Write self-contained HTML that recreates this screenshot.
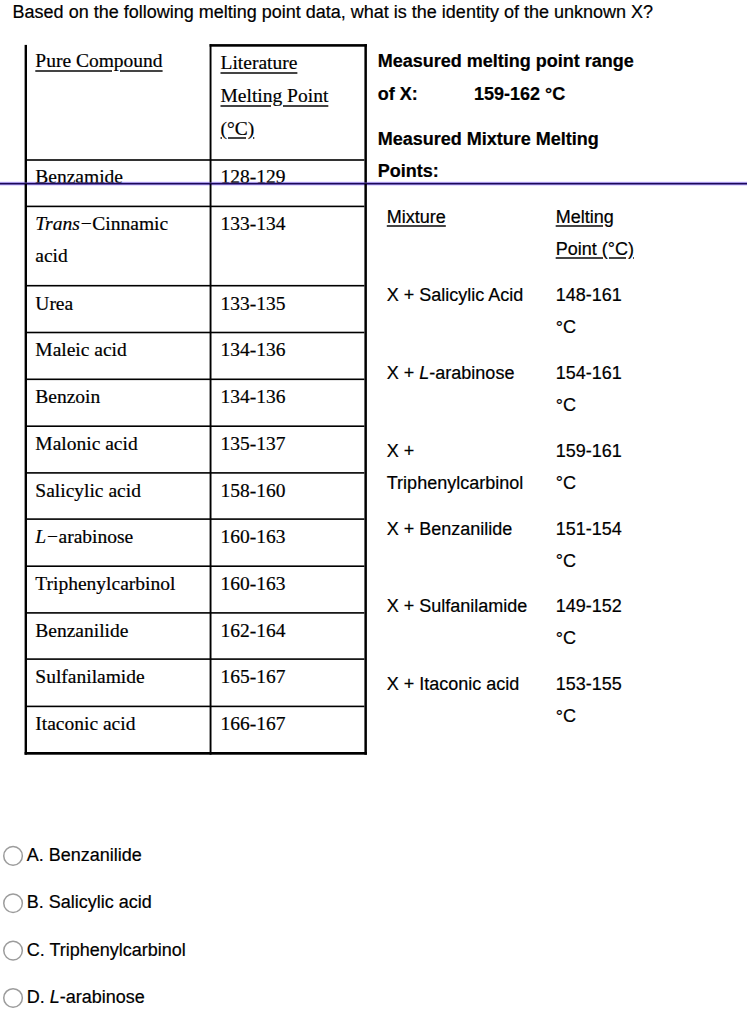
<!DOCTYPE html>
<html><head><meta charset="utf-8"><style>
html,body{margin:0;padding:0;background:#fff;width:747px;height:1024px;overflow:hidden;position:relative;}
.t{position:absolute;white-space:nowrap;color:#000;-webkit-text-stroke:0.2px #000;}
svg{position:absolute;left:0;top:0;}
</style></head><body>
<svg width="747" height="1024" viewBox="0 0 747 1024"><rect x="0" y="185" width="747" height="1" fill="#e6deff" shape-rendering="crispEdges"/><rect x="0" y="184" width="747" height="1" fill="#6e5eb4" shape-rendering="crispEdges"/><rect x="0" y="182" width="747" height="1" fill="#a596e6" shape-rendering="crispEdges"/><rect x="0" y="181" width="747" height="1" fill="#f3efff" shape-rendering="crispEdges"/><rect x="24.6" y="44.900000000000006" width="2.3999999999999986" height="709.8000000000001" fill="#000"/><rect x="364.4" y="44.1" width="2.5" height="710.6" fill="#000"/><rect x="209.6" y="44.1" width="1.9000000000000057" height="710.6" fill="#000"/><rect x="209.6" y="44.1" width="157.29999999999998" height="2.6000000000000014" fill="#000"/><rect x="24.6" y="752.0" width="342.29999999999995" height="2.7000000000000455" fill="#000"/><rect x="27.0" y="159.2" width="337.4" height="1.6" fill="#000"/><rect x="27.0" y="205.6" width="337.4" height="1.6" fill="#000"/><rect x="27.0" y="284.9" width="337.4" height="1.6" fill="#000"/><rect x="27.0" y="331.7" width="337.4" height="1.6" fill="#000"/><rect x="27.0" y="378.5" width="337.4" height="1.6" fill="#000"/><rect x="27.0" y="425.4" width="337.4" height="1.6" fill="#000"/><rect x="27.0" y="472.09999999999997" width="337.4" height="1.6" fill="#000"/><rect x="27.0" y="518.3000000000001" width="337.4" height="1.6" fill="#000"/><rect x="27.0" y="565.4000000000001" width="337.4" height="1.6" fill="#000"/><rect x="27.0" y="612.1" width="337.4" height="1.6" fill="#000"/><rect x="27.0" y="658.3000000000001" width="337.4" height="1.6" fill="#000"/><rect x="27.0" y="705.6" width="337.4" height="1.6" fill="#000"/><circle cx="13.05" cy="855.90" r="9.3" fill="none" stroke="#9c9c9c" stroke-width="1.5"/><circle cx="13.05" cy="903.25" r="9.3" fill="none" stroke="#9c9c9c" stroke-width="1.5"/><circle cx="13.05" cy="950.60" r="9.3" fill="none" stroke="#9c9c9c" stroke-width="1.5"/><circle cx="13.05" cy="997.95" r="9.3" fill="none" stroke="#9c9c9c" stroke-width="1.5"/></svg>
<div class="t" style="left:12.60px;top:-8.24px;font-family:'Liberation Sans', sans-serif;font-size:18px;line-height:40px;">Based on the following melting point data, what is the identity of the unknown X?</div>
<div class="t" style="left:35.30px;top:40.82px;font-family:'Liberation Serif', serif;font-size:19.5px;line-height:40px;text-decoration:underline;text-decoration-color:#444;text-decoration-thickness:1.5px;text-underline-offset:2.85px;">Pure Compound</div>
<div class="t" style="left:220.50px;top:42.82px;font-family:'Liberation Serif', serif;font-size:19.5px;line-height:40px;text-decoration:underline;text-decoration-color:#444;text-decoration-thickness:1.5px;text-underline-offset:2.85px;">Literature</div>
<div class="t" style="left:220.50px;top:75.52px;font-family:'Liberation Serif', serif;font-size:19.5px;line-height:40px;text-decoration:underline;text-decoration-color:#444;text-decoration-thickness:1.5px;text-underline-offset:2.55px;">Melting Point</div>
<div class="t" style="left:220.50px;top:108.92px;font-family:'Liberation Serif', serif;font-size:19.5px;line-height:40px;text-decoration:underline;text-decoration-color:#444;text-decoration-thickness:1.5px;text-underline-offset:1.85px;">(&deg;C)</div>
<div class="t" style="left:35.30px;top:157.22px;font-family:'Liberation Serif', serif;font-size:19.5px;line-height:40px;">Benzamide</div>
<div class="t" style="left:220.50px;top:157.22px;font-family:'Liberation Serif', serif;font-size:19.5px;line-height:40px;">128-129</div>
<div class="t" style="left:35.30px;top:204.32px;font-family:'Liberation Serif', serif;font-size:19.5px;line-height:40px;"><i>Trans</i><span style="margin:0 0.7px 0 0.9px">&minus;</span>Cinnamic</div>
<div class="t" style="left:220.50px;top:204.32px;font-family:'Liberation Serif', serif;font-size:19.5px;line-height:40px;">133-134</div>
<div class="t" style="left:35.30px;top:283.62px;font-family:'Liberation Serif', serif;font-size:19.5px;line-height:40px;">Urea</div>
<div class="t" style="left:220.50px;top:283.62px;font-family:'Liberation Serif', serif;font-size:19.5px;line-height:40px;">133-135</div>
<div class="t" style="left:35.30px;top:330.42px;font-family:'Liberation Serif', serif;font-size:19.5px;line-height:40px;">Maleic acid</div>
<div class="t" style="left:220.50px;top:330.42px;font-family:'Liberation Serif', serif;font-size:19.5px;line-height:40px;">134-136</div>
<div class="t" style="left:35.30px;top:377.22px;font-family:'Liberation Serif', serif;font-size:19.5px;line-height:40px;">Benzoin</div>
<div class="t" style="left:220.50px;top:377.22px;font-family:'Liberation Serif', serif;font-size:19.5px;line-height:40px;">134-136</div>
<div class="t" style="left:35.30px;top:424.12px;font-family:'Liberation Serif', serif;font-size:19.5px;line-height:40px;">Malonic acid</div>
<div class="t" style="left:220.50px;top:424.12px;font-family:'Liberation Serif', serif;font-size:19.5px;line-height:40px;">135-137</div>
<div class="t" style="left:35.30px;top:470.82px;font-family:'Liberation Serif', serif;font-size:19.5px;line-height:40px;">Salicylic acid</div>
<div class="t" style="left:220.50px;top:470.82px;font-family:'Liberation Serif', serif;font-size:19.5px;line-height:40px;">158-160</div>
<div class="t" style="left:35.30px;top:517.02px;font-family:'Liberation Serif', serif;font-size:19.5px;line-height:40px;"><i>L</i><span style="margin:0 0.5px 0 0.9px">&minus;</span>arabinose</div>
<div class="t" style="left:220.50px;top:517.02px;font-family:'Liberation Serif', serif;font-size:19.5px;line-height:40px;">160-163</div>
<div class="t" style="left:35.30px;top:564.12px;font-family:'Liberation Serif', serif;font-size:19.5px;line-height:40px;">Triphenylcarbinol</div>
<div class="t" style="left:220.50px;top:564.12px;font-family:'Liberation Serif', serif;font-size:19.5px;line-height:40px;">160-163</div>
<div class="t" style="left:35.30px;top:610.82px;font-family:'Liberation Serif', serif;font-size:19.5px;line-height:40px;">Benzanilide</div>
<div class="t" style="left:220.50px;top:610.82px;font-family:'Liberation Serif', serif;font-size:19.5px;line-height:40px;">162-164</div>
<div class="t" style="left:35.30px;top:657.02px;font-family:'Liberation Serif', serif;font-size:19.5px;line-height:40px;">Sulfanilamide</div>
<div class="t" style="left:220.50px;top:657.02px;font-family:'Liberation Serif', serif;font-size:19.5px;line-height:40px;">165-167</div>
<div class="t" style="left:35.30px;top:704.32px;font-family:'Liberation Serif', serif;font-size:19.5px;line-height:40px;">Itaconic acid</div>
<div class="t" style="left:220.50px;top:704.32px;font-family:'Liberation Serif', serif;font-size:19.5px;line-height:40px;">166-167</div>
<div class="t" style="left:35.30px;top:235.62px;font-family:'Liberation Serif', serif;font-size:19.5px;line-height:40px;">acid</div>
<div class="t" style="left:377.80px;top:40.66px;font-family:'Liberation Sans', sans-serif;font-size:18px;line-height:40px;font-weight:bold;">Measured melting point range</div>
<div class="t" style="left:377.80px;top:73.66px;font-family:'Liberation Sans', sans-serif;font-size:18px;line-height:40px;font-weight:bold;">of X:</div>
<div class="t" style="left:473.90px;top:73.66px;font-family:'Liberation Sans', sans-serif;font-size:18px;line-height:40px;font-weight:bold;">159-162 &deg;C</div>
<div class="t" style="left:377.80px;top:118.56px;font-family:'Liberation Sans', sans-serif;font-size:18px;line-height:40px;font-weight:bold;">Measured Mixture Melting</div>
<div class="t" style="left:377.80px;top:151.46px;font-family:'Liberation Sans', sans-serif;font-size:18px;line-height:40px;font-weight:bold;">Points:</div>
<div class="t" style="left:386.80px;top:196.61px;font-family:'Liberation Sans', sans-serif;font-size:18px;line-height:40px;text-decoration:underline;text-decoration-color:#444;text-decoration-thickness:1.5px;text-underline-offset:2.25px;">Mixture</div>
<div class="t" style="left:555.70px;top:196.56px;font-family:'Liberation Sans', sans-serif;font-size:18px;line-height:40px;text-decoration:underline;text-decoration-color:#444;text-decoration-thickness:1.5px;text-underline-offset:2.25px;">Melting</div>
<div class="t" style="left:555.70px;top:228.66px;font-family:'Liberation Sans', sans-serif;font-size:18px;line-height:40px;text-decoration:underline;text-decoration-color:#444;text-decoration-thickness:1.5px;text-underline-offset:2.25px;">Point (&deg;C)</div>
<div class="t" style="left:386.80px;top:274.96px;font-family:'Liberation Sans', sans-serif;font-size:18px;line-height:40px;">X + Salicylic Acid</div>
<div class="t" style="left:555.70px;top:274.96px;font-family:'Liberation Sans', sans-serif;font-size:18px;line-height:40px;">148-161</div>
<div class="t" style="left:555.70px;top:307.06px;font-family:'Liberation Sans', sans-serif;font-size:18px;line-height:40px;"><span style="position:relative;top:0.6px">&deg;</span>C</div>
<div class="t" style="left:386.80px;top:352.81px;font-family:'Liberation Sans', sans-serif;font-size:18px;line-height:40px;">X + <i>L</i>-arabinose</div>
<div class="t" style="left:555.70px;top:352.81px;font-family:'Liberation Sans', sans-serif;font-size:18px;line-height:40px;">154-161</div>
<div class="t" style="left:555.70px;top:384.91px;font-family:'Liberation Sans', sans-serif;font-size:18px;line-height:40px;"><span style="position:relative;top:0.6px">&deg;</span>C</div>
<div class="t" style="left:386.80px;top:430.66px;font-family:'Liberation Sans', sans-serif;font-size:18px;line-height:40px;">X +</div>
<div class="t" style="left:386.80px;top:462.76px;font-family:'Liberation Sans', sans-serif;font-size:18px;line-height:40px;">Triphenylcarbinol</div>
<div class="t" style="left:555.70px;top:430.66px;font-family:'Liberation Sans', sans-serif;font-size:18px;line-height:40px;">159-161</div>
<div class="t" style="left:555.70px;top:462.76px;font-family:'Liberation Sans', sans-serif;font-size:18px;line-height:40px;"><span style="position:relative;top:0.6px">&deg;</span>C</div>
<div class="t" style="left:386.80px;top:508.51px;font-family:'Liberation Sans', sans-serif;font-size:18px;line-height:40px;">X + Benzanilide</div>
<div class="t" style="left:555.70px;top:508.51px;font-family:'Liberation Sans', sans-serif;font-size:18px;line-height:40px;">151-154</div>
<div class="t" style="left:555.70px;top:540.61px;font-family:'Liberation Sans', sans-serif;font-size:18px;line-height:40px;"><span style="position:relative;top:0.6px">&deg;</span>C</div>
<div class="t" style="left:386.80px;top:586.36px;font-family:'Liberation Sans', sans-serif;font-size:18px;line-height:40px;">X + Sulfanilamide</div>
<div class="t" style="left:555.70px;top:586.36px;font-family:'Liberation Sans', sans-serif;font-size:18px;line-height:40px;">149-152</div>
<div class="t" style="left:555.70px;top:618.46px;font-family:'Liberation Sans', sans-serif;font-size:18px;line-height:40px;"><span style="position:relative;top:0.6px">&deg;</span>C</div>
<div class="t" style="left:386.80px;top:664.21px;font-family:'Liberation Sans', sans-serif;font-size:18px;line-height:40px;">X + Itaconic acid</div>
<div class="t" style="left:555.70px;top:664.21px;font-family:'Liberation Sans', sans-serif;font-size:18px;line-height:40px;">153-155</div>
<div class="t" style="left:555.70px;top:696.31px;font-family:'Liberation Sans', sans-serif;font-size:18px;line-height:40px;"><span style="position:relative;top:0.6px">&deg;</span>C</div>
<div class="t" style="left:26.80px;top:834.96px;font-family:'Liberation Sans', sans-serif;font-size:18px;line-height:40px;">A. Benzanilide</div>
<div class="t" style="left:26.80px;top:882.31px;font-family:'Liberation Sans', sans-serif;font-size:18px;line-height:40px;">B. Salicylic acid</div>
<div class="t" style="left:26.80px;top:929.66px;font-family:'Liberation Sans', sans-serif;font-size:18px;line-height:40px;">C. Triphenylcarbinol</div>
<div class="t" style="left:26.80px;top:977.01px;font-family:'Liberation Sans', sans-serif;font-size:18px;line-height:40px;">D. <i>L</i>-arabinose</div>
<svg width="747" height="1024" viewBox="0 0 747 1024"><rect x="0" y="183" width="747" height="1" fill="#1c0a58" shape-rendering="crispEdges"/><rect x="0" y="182" width="747" height="1" fill="#a596e6" opacity="0.35" shape-rendering="crispEdges"/></svg>
</body></html>
